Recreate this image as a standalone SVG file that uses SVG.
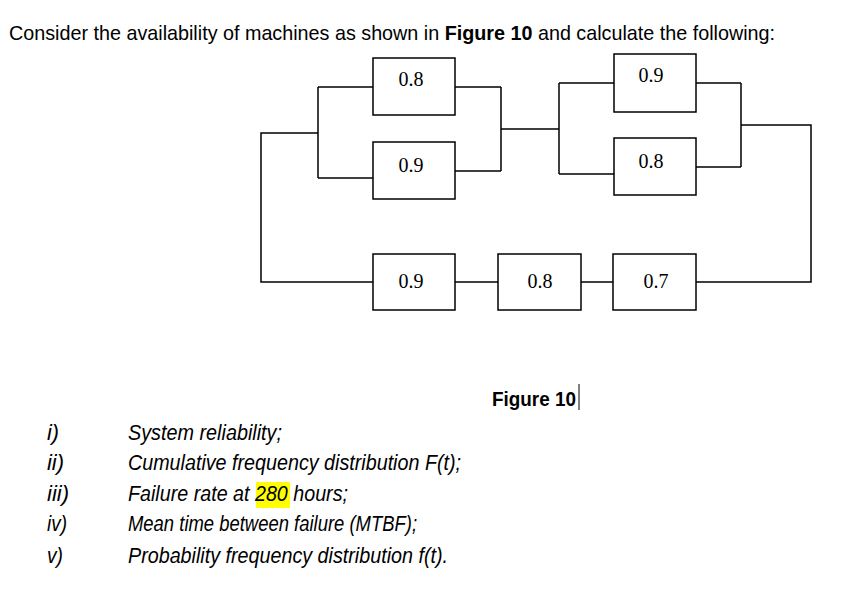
<svg xmlns="http://www.w3.org/2000/svg" width="860" height="593" viewBox="0 0 860 593">
<style>
.b{fill:#fff;stroke:#000;stroke-width:1.5}
.n{font-family:"Liberation Serif",serif;font-size:20px;text-anchor:middle}
.w{fill:none;stroke:#000;stroke-width:1.5}
.t{font-family:"Liberation Sans",Arial,sans-serif;font-size:21px}
.i{font-family:"Liberation Sans",Arial,sans-serif;font-size:22px;font-style:italic}
</style>
<rect width="860" height="593" fill="#fff"/>
<text class="t" x="9" y="40" textLength="766" lengthAdjust="spacingAndGlyphs">Consider the availability of machines as shown in <tspan font-weight="bold">Figure 10</tspan> and calculate the following:</text>
<g id="connectors" class="w">
<path d="M318 87V178M318 87H373M318 178H373M455 87H501M455 171H501M501 87V171M501 129H559M559 83V174M559 83H614M559 174H614M696 83H741M696 167H741M741 83V167M741 125H811V282H696M613 282H581M498 282H455M373 282H261V133H318"/>
</g>
<g id="n1"><rect class="b" x="373" y="58" width="82" height="57"/><text class="n" x="411" y="86">0.8</text></g>
<g id="n2"><rect class="b" x="373" y="142" width="82" height="57"/><text class="n" x="411" y="172">0.9</text></g>
<g id="n3"><rect class="b" x="614" y="54" width="82" height="58"/><text class="n" x="651" y="82">0.9</text></g>
<g id="n4"><rect class="b" x="614" y="138" width="82" height="57"/><text class="n" x="651" y="168">0.8</text></g>
<g id="n5"><rect class="b" x="373" y="254" width="82" height="56"/><text class="n" x="411" y="288">0.9</text></g>
<g id="n6"><rect class="b" x="498" y="254" width="83" height="56"/><text class="n" x="540" y="288">0.8</text></g>
<g id="n7"><rect class="b" x="613" y="254" width="83" height="56"/><text class="n" x="656" y="288">0.7</text></g>
<text class="t" x="492" y="406" font-weight="bold" textLength="84" lengthAdjust="spacingAndGlyphs">Figure 10</text>
<line x1="579" y1="384" x2="579" y2="410" stroke="#000" stroke-width="1"/>
<rect x="256" y="482" width="34" height="26" fill="#ffff00"/>
<g class="i">
<text x="47" y="440" textLength="12" lengthAdjust="spacingAndGlyphs">i)</text>
<text x="47" y="470" textLength="17" lengthAdjust="spacingAndGlyphs">ii)</text>
<text x="47" y="501" textLength="22" lengthAdjust="spacingAndGlyphs">iii)</text>
<text x="47" y="531" textLength="20" lengthAdjust="spacingAndGlyphs">iv)</text>
<text x="47" y="563" textLength="16" lengthAdjust="spacingAndGlyphs">v)</text>
<text x="128" y="440" textLength="154" lengthAdjust="spacingAndGlyphs">System reliability;</text>
<text x="128" y="470" textLength="333" lengthAdjust="spacingAndGlyphs">Cumulative frequency distribution F(t);</text>
<text x="128" y="501" textLength="220" lengthAdjust="spacingAndGlyphs">Failure rate at 280 hours;</text>
<text x="128" y="531" textLength="289" lengthAdjust="spacingAndGlyphs">Mean time between failure (MTBF);</text>
<text x="128" y="563" textLength="320" lengthAdjust="spacingAndGlyphs">Probability frequency distribution f(t).</text>
</g>
</svg>
